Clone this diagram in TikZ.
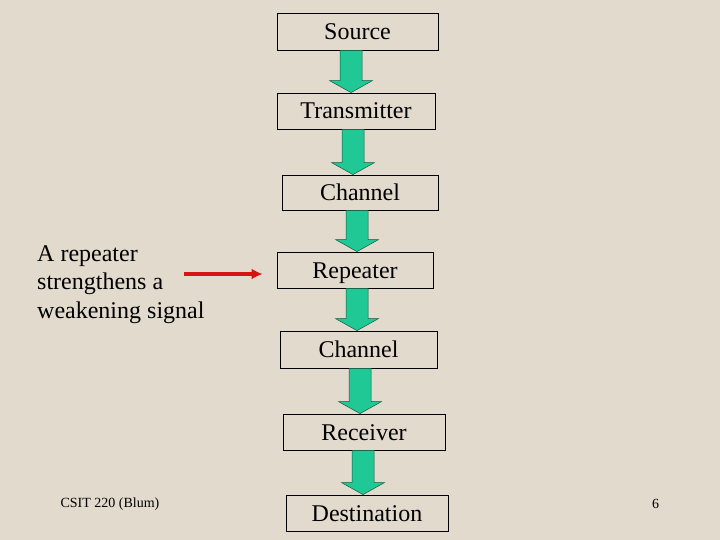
\documentclass[tikz,border=0pt]{standalone}
\usepackage{fontspec}
\setmainfont{Liberation Serif}
\usetikzlibrary{calc,arrows.meta}
\definecolor{bg}{RGB}{226,218,205}
\definecolor{gfill}{RGB}{32,200,150}
\definecolor{gline}{RGB}{20,90,60}
\definecolor{redarrow}{RGB}{215,20,20}
\tikzset{
  box/.style={draw=black, line width=0.8pt, inner sep=0pt, text height=16pt, text depth=0pt, font=\fontsize{24}{28}\selectfont},
  greenarrow/.style={fill=gfill, draw=gline, line width=0.5pt, line join=miter},
  sidetext/.style={align=left, anchor=north west, inner sep=0pt, font=\fontsize{24}{28.5}\selectfont},
  smalltext/.style={inner sep=0pt, font=\fontsize{14}{16}\selectfont},
}
\newcommand\gblock[3]{%
  \path let \p1=($(#1.south)+(#3pt,0)$), \p2=(#2.north) in
    [greenarrow] (\x1-11pt,\y1) -- (\x1+11pt,\y1) -- (\x1+11pt,\y2+12pt)
    -- (\x1+21.5pt,\y2+12pt) -- (\x1,\y2) -- (\x1-21.5pt,\y2+12pt)
    -- (\x1-11pt,\y2+12pt) -- cycle;}
\begin{document}
\begin{tikzpicture}[x=1pt,y=-1pt]
\fill[bg] (0,0) rectangle (720,540);
\useasboundingbox (0,0) rectangle (720,540);
\node[box, minimum width=161pt, minimum height=37pt] (src) at (357.5,31.5) {Source};
\node[box, minimum width=158pt, minimum height=36pt] (tx) at (356,111) {Transmitter};
\node[box, minimum width=156pt, minimum height=35pt] (ch1) at (360,192.5) {Channel};
\node[box, minimum width=156pt, minimum height=36pt] (rep) at (355,270) {Repeater};
\node[box, minimum width=157pt, minimum height=37pt] (ch2) at (358.5,349.5) {Channel};
\node[box, minimum width=162pt, minimum height=36pt] (rcv) at (364,432) {Receiver};
\node[box, minimum width=162pt, minimum height=36pt] (dst) at (367,513) {Destination};
\gblock{src}{tx}{-6.5}
\gblock{tx}{ch1}{-3}
\gblock{ch1}{rep}{-3}
\gblock{rep}{ch2}{2}
\gblock{ch2}{rcv}{1.5}
\gblock{rcv}{dst}{-1}
\node[sidetext] (note) at (37,245) {A repeater\\strengthens a\\weakening signal};
\coordinate (redstart) at (184,274);
\draw[redarrow, line width=4.5pt, -{Latex[length=11pt,width=11pt]}] (redstart) -- ($(rep.west)+(-14,4)$);
\node[smalltext] (course) at (110,504) {CSIT 220 (Blum)};
\node[smalltext] (page) at (655.5,504) {6};
\end{tikzpicture}
\end{document}
